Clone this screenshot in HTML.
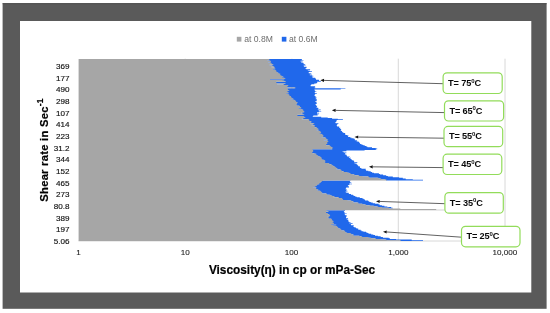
<!DOCTYPE html>
<html><head><meta charset="utf-8"><title>Viscosity chart</title>
<style>
html,body{margin:0;padding:0;background:#fff;}
body{width:550px;height:313px;overflow:hidden;}
svg{display:block;font-family:"Liberation Sans",sans-serif;}
.ax text{font-size:8.1px;fill:#222;stroke:#222;stroke-width:0.1px;}
.yl text{font-size:8.1px;fill:#111;stroke:#111;stroke-width:0.15px;}
.lg text{font-size:8.6px;fill:#6e6e6e;}
.tt{font-size:11.4px;font-weight:bold;fill:#000;stroke:#000;stroke-width:0.2px;}
.lb{font-size:9.2px;font-weight:bold;fill:#0a0a0a;letter-spacing:-0.12px;}
</style></head><body>
<svg width="550" height="313" viewBox="0 0 550 313">
<rect x="0" y="0" width="550" height="313" fill="#fff"/>
<rect x="2.6" y="3.2" width="544" height="305.6" fill="#5a5a5a"/>
<rect x="2.6" y="3.2" width="544" height="1" fill="#4c4c4c"/>
<rect x="20" y="21" width="511.3" height="271.5" fill="#fff"/>
<!-- gridlines -->
<g stroke="#d4d4d4" stroke-width="0.9">
<line x1="185.2" y1="58.7" x2="185.2" y2="240.8"/>
<line x1="291.9" y1="58.7" x2="291.9" y2="240.8"/>
<line x1="398.3" y1="58.7" x2="398.3" y2="240.8"/>
<line x1="505" y1="58.7" x2="505" y2="240.8"/>
<line x1="78.5" y1="241.0" x2="505" y2="241.0"/>
</g>
<!-- series -->
<path d="M268.2 58.90H301.8V59.55H301.9V60.20H303.5V60.85H300.6V61.50H302.6V62.15H301.1V62.80H303.4V63.45H303.8V64.10H305.2V64.75H303.7V65.40H305.6V66.05H303.9V66.70H306.6V67.35H306.5V68.00H305.5V68.65H306.3V69.30H310.1V69.95H307.8V70.60H309.7V71.25H311.9V71.90H308.8V72.55H308.7V73.20H310.7V73.85H311.7V74.50H309.8V75.15H312.1V75.80H313.3V76.45H311.9V77.10H312.5V77.75H315.2V78.40H315.9V79.05H316.0V79.70H318.9V80.35H319.2V81.00H320.8V81.65H316.9V82.30H317.3V82.95H316.5V83.60H314.3V84.25H311.3V84.90H310.6V85.55H310.7V86.20H315.0V86.85H315.3V87.50H314.6V88.15H345.4V88.80H340.7V89.45H314.5V90.10H314.7V90.75H315.2V91.40H316.4V92.05H314.7V92.70H315.0V93.35H316.8V94.00H315.1V94.65H314.5V95.30H314.6V95.95H316.1V96.60H315.1V97.25H316.4V97.90H316.4V98.55H315.7V99.20H316.9V99.85H316.8V100.50H316.5V101.15H315.0V101.80H316.1V102.45H316.9V103.10H316.9V103.75H316.0V104.40H315.2V105.05H316.1V105.70H317.2V106.35H316.9V107.00H316.6V107.65H318.2V108.30H318.4V108.95H317.8V109.60H320.7V110.25H318.7V110.90H321.2V111.55H318.8V112.20H317.1V112.85H317.0V113.50H319.1V114.15H317.4V114.80H317.6V115.45H313.3V116.10H312.8V116.75H321.2V117.40H327.7V118.05H332.1V118.70H337.8V119.35H342.9V120.00H336.6V120.65H336.9V121.30H336.1V121.95H335.2V122.60H335.7V123.25H338.4V123.90H337.6V124.55H337.0V125.20H336.6V125.85H337.1V126.50H339.2V127.15H339.0V127.80H340.3V128.45H340.2V129.10H341.1V129.75H341.2V130.40H340.7V131.05H342.0V131.70H342.3V132.35H343.3V133.00H345.2V133.65H344.9V134.30H345.4V134.95H347.3V135.60H348.5V136.25H348.0V136.90H350.0V137.55H351.4V138.20H353.6V138.85H354.8V139.50H354.8V140.15H357.1V140.80H356.7V141.45H358.6V142.10H359.1V142.75H360.1V143.40H359.9V144.05H361.5V144.70H363.1V145.35H364.7V146.00H366.5V146.65H367.5V147.30H372.0V147.95H375.7V148.60H377.2V149.25H375.8V149.90H364.6V150.55H346.4V151.20H342.5V151.85H343.7V152.50H346.4V153.15H345.1V153.80H344.9V154.45H346.3V155.10H346.6V155.75H347.1V156.40H349.7V157.05H348.9V157.70H350.9V158.35H350.3V159.00H351.4V159.65H352.0V160.30H353.6V160.95H354.3V161.60H354.0V162.25H357.3V162.90H354.6V163.55H356.5V164.20H356.9V164.85H357.7V165.50H358.2V166.15H359.7V166.80H360.1V167.45H359.9V168.10H361.4V168.75H365.8V169.40H365.6V170.05H366.1V170.70H368.3V171.35H370.7V172.00H372.1V172.65H373.9V173.30H378.9V173.95H380.0V174.60H383.1V175.25H386.2V175.90H387.9V176.55H392.8V177.20H399.1V177.85H402.8V178.50H405.7V179.15H412.8V179.80H423.0V180.45H350.5V181.10H349.9V181.75H350.2V182.40H351.3V183.05H349.5V183.70H352.0V184.35H349.4V185.00H348.2V185.65H347.7V186.30H348.9V186.95H349.0V187.60H346.2V188.25H345.8V188.90H345.7V189.55H346.9V190.20H346.0V190.85H347.5V191.50H345.6V192.15H346.3V192.80H348.6V193.45H349.0V194.10H351.0V194.75H352.9V195.40H354.1V196.05H355.3V196.70H356.8V197.35H359.8V198.00H362.5V198.65H363.7V199.30H364.7V199.95H365.1V200.60H368.2V201.25H369.3V201.90H370.8V202.55H372.7V203.20H375.1V203.85H378.6V204.50H379.8V205.15H381.9V205.80H384.4V206.45H387.3V207.10H391.2V207.75H392.7V208.40H399.3V209.05H435.2V209.70H443.9V210.35H345.0V211.00H343.9V211.65H344.4V212.30H344.6V212.95H346.7V213.60H344.6V214.25H344.9V214.90H345.6V215.55H347.0V216.20H346.4V216.85H346.1V217.50H346.0V218.15H348.0V218.80H348.2V219.45H346.8V220.10H348.4V220.75H348.2V221.40H349.1V222.05H350.5V222.70H349.0V223.35H352.6V224.00H350.9V224.65H350.9V225.30H353.7V225.95H353.0V226.60H354.0V227.25H355.7V227.90H356.4V228.55H358.2V229.20H358.3V229.85H360.6V230.50H361.6V231.15H363.4V231.80H366.1V232.45H367.3V233.10H368.5V233.75H371.2V234.40H373.3V235.05H375.0V235.70H377.8V236.35H380.7V237.00H382.9V237.65H388.7V238.30H389.9V238.95H396.1V239.60H411.7V240.25H423.0V240.90H428.2V241.10H405.0V240.90H400.0V240.25H385.8V239.60H379.9V238.95H375.1V238.30H370.4V237.65H367.7V237.00H361.3V236.35H359.1V235.70H352.7V235.05H353.1V234.40H350.7V233.75H349.8V233.10H346.4V232.45H344.8V231.80H344.3V231.15H343.9V230.50H340.8V229.85H340.4V229.20H339.8V228.55H337.6V227.90H337.5V227.25H336.7V226.60H336.1V225.95H332.7V225.30H335.8V224.65H330.5V224.00H333.1V223.35H333.1V222.70H331.6V222.05H332.9V221.40H332.4V220.75H331.4V220.10H331.1V219.45H331.1V218.80H327.9V218.15H328.2V217.50H326.8V216.85H328.2V216.20H329.3V215.55H329.2V214.90H328.8V214.25H326.7V213.60H327.2V212.95H325.3V212.30H325.1V211.65H328.0V211.00H325.8V210.35H443.9V209.70H435.2V209.05H399.3V208.40H388.4V207.75H381.3V207.10H377.5V206.45H373.6V205.80H369.6V205.15H365.3V204.50H362.0V203.85H357.7V203.20H357.7V202.55H352.1V201.90H352.9V201.25H350.8V200.60H346.6V199.95H342.3V199.30H341.9V198.65H341.3V198.00H338.2V197.35H332.6V196.70H333.9V196.05H331.5V195.40H329.7V194.75H326.4V194.10H326.1V193.45H321.1V192.80H321.6V192.15H320.5V191.50H319.8V190.85H316.4V190.20H317.7V189.55H316.6V188.90H315.2V188.25H316.0V187.60H312.0V186.95H314.0V186.30H315.4V185.65H316.3V185.00H316.8V184.35H318.8V183.70H318.6V183.05H320.2V182.40H319.6V181.75H321.2V181.10H322.3V180.45H386.1V179.80H384.8V179.15H380.4V178.50H377.8V177.85H368.7V177.20H368.1V176.55H361.6V175.90H358.4V175.25H354.0V174.60H351.7V173.95H349.9V173.30H348.8V172.65H346.6V172.00H343.2V171.35H341.2V170.70H340.5V170.05H340.3V169.40H335.4V168.75H336.8V168.10H335.6V167.45H334.6V166.80H334.0V166.15H332.7V165.50H331.4V164.85H330.9V164.20H328.8V163.55H328.1V162.90H324.5V162.25H323.7V161.60H324.8V160.95H324.4V160.30H323.4V159.65H321.2V159.00H320.8V158.35H321.3V157.70H320.2V157.05H319.7V156.40H317.7V155.75H316.8V155.10H315.5V154.45H315.8V153.80H314.2V153.15H311.7V152.50H311.3V151.85H312.4V151.20H312.3V150.55H312.4V149.90H311.7V149.25H332.0V148.60H330.6V147.95H331.9V147.30H330.8V146.65H329.8V146.00H329.3V145.35H325.3V144.70H325.5V144.05H326.8V143.40H326.0V142.75H326.6V142.10H327.7V141.45H327.2V140.80H322.9V140.15H327.3V139.50H325.7V138.85H325.6V138.20H325.2V137.55H320.7V136.90H322.6V136.25H322.2V135.60H322.9V134.95H321.9V134.30H320.7V133.65H318.9V133.00H320.3V132.35H320.1V131.70H319.5V131.05H315.9V130.40H318.5V129.75H317.1V129.10H317.6V128.45H316.1V127.80H316.3V127.15H313.8V126.50H314.0V125.85H314.4V125.20H310.7V124.55H312.8V123.90H313.5V123.25H309.2V122.60H310.8V121.95H310.8V121.30H309.1V120.65H308.3V120.00H308.4V119.35H301.0V118.70H302.8V118.05H304.8V117.40H304.1V116.75H303.0V116.10H296.8V115.45H296.5V114.80H303.6V114.15H302.3V113.50H300.1V112.85H301.9V112.20H303.7V111.55H303.2V110.90H302.6V110.25H302.4V109.60H300.7V108.95H298.0V108.30H300.8V107.65H300.2V107.00H299.2V106.35H299.1V105.70H296.5V105.05H295.0V104.40H296.4V103.75H296.3V103.10H297.2V102.45H295.8V101.80H295.2V101.15H295.0V100.50H293.8V99.85H290.0V99.20H292.7V98.55H291.3V97.90H291.0V97.25H290.1V96.60H290.3V95.95H288.7V95.30H288.9V94.65H287.8V94.00H285.8V93.35H288.3V92.70H287.6V92.05H286.4V91.40H287.0V90.75H288.5V90.10H286.9V89.45H287.3V88.80H286.7V88.15H294.8V87.50H286.5V86.85H286.0V86.20H287.3V85.55H287.6V84.90H283.3V84.25H276.3V83.60H285.1V82.95H275.6V82.30H275.4V81.65H285.1V81.00H281.7V80.35H283.9V79.70H269.3V79.05H284.7V78.40H283.7V77.75H281.2V77.10H282.7V76.45H281.2V75.80H279.9V75.15H279.2V74.50H279.7V73.85H278.0V73.20H277.7V72.55H276.5V71.90H275.8V71.25H275.5V70.60H274.8V69.95H272.4V69.30H275.1V68.65H273.5V68.00H274.1V67.35H270.6V66.70H273.4V66.05H272.1V65.40H268.7V64.75H272.6V64.10H271.1V63.45H270.6V62.80H267.3V62.15H270.2V61.50H269.9V60.85H266.5V60.20H268.7V59.55H268.2V58.90Z" fill="#2068eb"/>
<path d="M78.6 58.90H269.0V59.55H269.5V60.20H267.3V60.85H270.7V61.50H271.0V62.15H268.1V62.80H271.4V63.45H271.9V64.10H273.4V64.75H269.5V65.40H272.9V66.05H274.2V66.70H271.4V67.35H274.9V68.00H274.3V68.65H275.9V69.30H273.2V69.95H275.6V70.60H276.3V71.25H276.6V71.90H277.3V72.55H278.5V73.20H278.8V73.85H280.5V74.50H280.0V75.15H280.7V75.80H282.0V76.45H283.5V77.10H282.0V77.75H284.5V78.40H285.5V79.05H270.1V79.70H284.7V80.35H282.5V81.00H285.9V81.65H276.2V82.30H276.4V82.95H285.9V83.60H277.1V84.25H284.1V84.90H288.4V85.55H288.1V86.20H286.8V86.85H287.3V87.50H295.6V88.15H287.5V88.80H288.1V89.45H287.7V90.10H289.3V90.75H287.8V91.40H287.2V92.05H288.4V92.70H289.1V93.35H286.6V94.00H288.6V94.65H289.7V95.30H289.5V95.95H291.1V96.60H290.9V97.25H291.8V97.90H292.1V98.55H293.5V99.20H290.8V99.85H294.6V100.50H295.8V101.15H296.0V101.80H296.6V102.45H298.0V103.10H297.1V103.75H297.2V104.40H295.8V105.05H297.3V105.70H299.9V106.35H300.0V107.00H301.0V107.65H301.6V108.30H298.8V108.95H301.5V109.60H303.2V110.25H303.4V110.90H304.0V111.55H304.5V112.20H302.7V112.85H300.9V113.50H303.1V114.15H304.4V114.80H297.3V115.45H297.6V116.10H303.8V116.75H304.9V117.40H305.6V118.05H303.6V118.70H301.8V119.35H309.2V120.00H309.1V120.65H309.9V121.30H311.6V121.95H311.6V122.60H310.0V123.25H314.3V123.90H313.6V124.55H311.5V125.20H315.2V125.85H314.8V126.50H314.6V127.15H317.1V127.80H316.9V128.45H318.4V129.10H317.9V129.75H319.3V130.40H316.7V131.05H320.3V131.70H320.9V132.35H321.1V133.00H319.7V133.65H321.5V134.30H322.7V134.95H323.7V135.60H323.0V136.25H323.4V136.90H321.5V137.55H326.0V138.20H326.4V138.85H326.5V139.50H328.1V140.15H323.7V140.80H328.0V141.45H328.5V142.10H327.4V142.75H326.8V143.40H327.6V144.05H326.3V144.70H326.1V145.35H330.1V146.00H330.6V146.65H331.6V147.30H332.7V147.95H331.4V148.60H332.8V149.25H312.5V149.90H313.2V150.55H313.1V151.20H313.2V151.85H312.1V152.50H312.5V153.15H315.0V153.80H316.6V154.45H316.3V155.10H317.6V155.75H318.5V156.40H320.5V157.05H321.0V157.70H322.1V158.35H321.6V159.00H322.0V159.65H324.2V160.30H325.2V160.95H325.6V161.60H324.5V162.25H325.3V162.90H328.9V163.55H329.6V164.20H331.7V164.85H332.2V165.50H333.5V166.15H334.8V166.80H335.4V167.45H336.4V168.10H337.6V168.75H336.2V169.40H341.1V170.05H341.3V170.70H342.0V171.35H344.0V172.00H347.4V172.65H349.6V173.30H350.7V173.95H352.5V174.60H354.8V175.25H359.2V175.90H362.4V176.55H368.9V177.20H369.5V177.85H378.6V178.50H381.2V179.15H385.6V179.80H386.9V180.45H323.1V181.10H322.0V181.75H320.4V182.40H321.0V183.05H319.4V183.70H319.6V184.35H317.6V185.00H317.1V185.65H316.2V186.30H314.8V186.95H312.8V187.60H316.8V188.25H316.0V188.90H317.4V189.55H318.5V190.20H317.2V190.85H320.6V191.50H321.3V192.15H322.4V192.80H321.9V193.45H326.9V194.10H327.2V194.75H330.5V195.40H332.3V196.05H334.7V196.70H333.4V197.35H339.0V198.00H342.1V198.65H342.7V199.30H343.1V199.95H347.4V200.60H351.6V201.25H353.7V201.90H352.9V202.55H358.5V203.20H358.5V203.85H362.8V204.50H366.1V205.15H370.4V205.80H374.4V206.45H378.3V207.10H382.1V207.75H389.2V208.40H400.3V209.05H436.2V209.70H444.9V210.35H326.6V211.00H328.8V211.65H325.9V212.30H326.1V212.95H328.0V213.60H327.5V214.25H329.6V214.90H330.0V215.55H330.1V216.20H329.0V216.85H327.6V217.50H329.0V218.15H328.7V218.80H331.9V219.45H331.9V220.10H332.2V220.75H333.2V221.40H333.7V222.05H332.4V222.70H333.9V223.35H333.9V224.00H331.3V224.65H336.6V225.30H333.5V225.95H336.9V226.60H337.5V227.25H338.3V227.90H338.4V228.55H340.6V229.20H341.2V229.85H341.6V230.50H344.7V231.15H345.1V231.80H345.6V232.45H347.2V233.10H350.6V233.75H351.5V234.40H353.9V235.05H353.5V235.70H359.9V236.35H362.1V237.00H368.5V237.65H371.2V238.30H375.9V238.95H380.7V239.60H386.6V240.25H400.8V240.90H405.8V241.10H78.6Z" fill="#a6a6a6"/>
<!-- legend -->
<g class="lg">
<rect x="236.8" y="36.8" width="4.6" height="4.8" fill="#a6a6a6"/>
<text x="244.2" y="42.2">at 0.8M</text>
<rect x="281.8" y="36.8" width="4.6" height="4.8" fill="#2068eb"/>
<text x="289" y="42.2">at 0.6M</text>
</g>
<g class="yl">
<text x="69.6" y="69.20" text-anchor="end">369</text>
<text x="69.6" y="80.84" text-anchor="end">177</text>
<text x="69.6" y="92.48" text-anchor="end">490</text>
<text x="69.6" y="104.12" text-anchor="end">298</text>
<text x="69.6" y="115.76" text-anchor="end">107</text>
<text x="69.6" y="127.40" text-anchor="end">414</text>
<text x="69.6" y="139.04" text-anchor="end">223</text>
<text x="69.6" y="150.68" text-anchor="end">31.2</text>
<text x="69.6" y="162.32" text-anchor="end">344</text>
<text x="69.6" y="173.96" text-anchor="end">152</text>
<text x="69.6" y="185.60" text-anchor="end">465</text>
<text x="69.6" y="197.24" text-anchor="end">273</text>
<text x="69.6" y="208.88" text-anchor="end">80.8</text>
<text x="69.6" y="220.52" text-anchor="end">389</text>
<text x="69.6" y="232.16" text-anchor="end">197</text>
<text x="69.6" y="243.80" text-anchor="end">5.06</text>
</g>
<g class="ax">
<text x="78.5" y="255.1" text-anchor="middle">1</text>
<text x="185.2" y="255.1" text-anchor="middle">10</text>
<text x="291.6" y="255.1" text-anchor="middle">100</text>
<text x="398.3" y="255.1" text-anchor="middle">1,000</text>
<text x="505" y="255.1" text-anchor="middle">10,000</text>
</g>
<text class="tt" transform="translate(48.3,201.7) rotate(-90)" style="font-size:11.2px;letter-spacing:0.27px">Shear rate in Sec<tspan dy="-5.5" style="font-size:8.4px;letter-spacing:0.2px">-1</tspan></text>
<text class="tt" x="208.9" y="273.8" textLength="166.2" lengthAdjust="spacingAndGlyphs" style="font-size:12px">Viscosity(η) in cp or mPa-Sec</text>
<!-- arrows -->
<line x1="324.00" y1="80.40" x2="443.10" y2="83.70" stroke="#3a3a3a" stroke-width="0.8"/><polygon points="320.30,80.30 323.96,81.95 324.04,78.85" fill="#111"/>
<line x1="335.60" y1="110.38" x2="444.50" y2="112.60" stroke="#3a3a3a" stroke-width="0.8"/><polygon points="331.90,110.30 335.57,111.93 335.63,108.83" fill="#111"/>
<line x1="358.20" y1="137.05" x2="444.00" y2="138.20" stroke="#3a3a3a" stroke-width="0.8"/><polygon points="354.50,137.00 358.18,138.60 358.22,135.50" fill="#111"/>
<line x1="372.70" y1="166.84" x2="443.10" y2="167.60" stroke="#3a3a3a" stroke-width="0.8"/><polygon points="369.00,166.80 372.68,168.39 372.72,165.29" fill="#111"/>
<line x1="379.70" y1="201.43" x2="444.90" y2="203.70" stroke="#3a3a3a" stroke-width="0.8"/><polygon points="376.00,201.30 379.64,202.98 379.75,199.88" fill="#111"/>
<line x1="386.69" y1="231.96" x2="461.50" y2="237.20" stroke="#3a3a3a" stroke-width="0.8"/><polygon points="383.00,231.70 386.58,233.50 386.80,230.41" fill="#111"/>
<!-- label boxes -->
<rect x="443.1" y="72.8" width="59.1" height="20.7" rx="4" ry="4" fill="#fff" stroke="#92dc5a" stroke-width="1.2"/><text x="448.0" y="85.95" class="lb">T= 75<tspan dy="-3.4" font-size="6">0</tspan><tspan dy="3.4">C</tspan></text>
<rect x="444.5" y="100.8" width="59.1" height="20.2" rx="4" ry="4" fill="#fff" stroke="#92dc5a" stroke-width="1.2"/><text x="449.4" y="113.70" class="lb">T= 65<tspan dy="-3.4" font-size="6">0</tspan><tspan dy="3.4">C</tspan></text>
<rect x="444.0" y="126.4" width="58.7" height="20.3" rx="4" ry="4" fill="#fff" stroke="#92dc5a" stroke-width="1.2"/><text x="448.9" y="139.35" class="lb">T= 55<tspan dy="-3.4" font-size="6">0</tspan><tspan dy="3.4">C</tspan></text>
<rect x="443.1" y="154.2" width="58.7" height="20.3" rx="4" ry="4" fill="#fff" stroke="#92dc5a" stroke-width="1.2"/><text x="448.0" y="167.15" class="lb">T= 45<tspan dy="-3.4" font-size="6">0</tspan><tspan dy="3.4">C</tspan></text>
<rect x="444.9" y="192.6" width="58.4" height="20.6" rx="4" ry="4" fill="#fff" stroke="#92dc5a" stroke-width="1.2"/><text x="449.8" y="205.70" class="lb">T= 35<tspan dy="-3.4" font-size="6">0</tspan><tspan dy="3.4">C</tspan></text>
<rect x="461.5" y="226.3" width="58.5" height="20.5" rx="4" ry="4" fill="#fff" stroke="#92dc5a" stroke-width="1.2"/><text x="466.4" y="239.35" class="lb">T= 25<tspan dy="-3.4" font-size="6">0</tspan><tspan dy="3.4">C</tspan></text>
</svg>
</body></html>
